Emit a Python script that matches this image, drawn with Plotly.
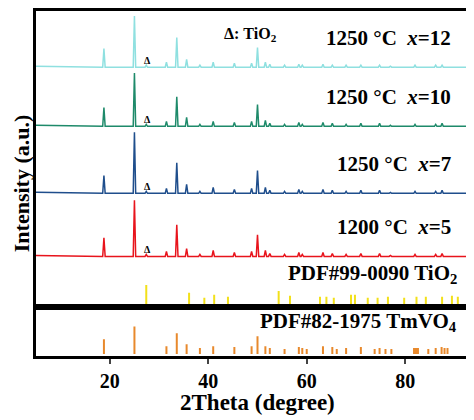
import plotly.graph_objects as go
import plotly.subplots as sp

# -------------- data --------------
peaks = [18.8, 25.0, 27.4, 31.5, 33.6, 35.6, 38.3, 41.0, 45.3, 48.8, 50.0, 51.6, 52.5,
         55.5, 58.4, 59.1, 63.3, 65.2, 68.0, 71.0, 74.8, 77.0, 82.0, 86.2, 87.5]
h_red = [19, 57, 2, 5, 32, 8, 2, 6, 4, 5, 22, 6, 3, 2, 4, 2, 4, 3, 2, 3, 3, 1, 2, 2, 3]
h_blue = [18, 62, 2, 5, 31, 9, 2, 6, 4, 5, 23, 6, 3, 2, 4, 2, 4, 3, 2, 3, 3, 1, 2, 2, 3]
h_green = [19, 54, 2, 5, 30, 9, 2, 5, 4, 5, 22, 6, 3, 2, 4, 2, 4, 3, 2, 3, 3, 1, 2, 2, 3]
h_cyan = [19, 52, 2, 5, 30, 8, 2, 5, 4, 4, 20, 5, 3, 2, 3, 2, 3, 2, 2, 2, 2, 1, 2, 2, 2]
offsets = {'red': 51, 'blue': 115, 'green': 183, 'cyan': 243}
labels = ['1200 °C  <i>x</i>=5', '1250 °C  <i>x</i>=7', '1250 °C  <i>x</i>=10', '1250 °C  <i>x</i>=12']

tio2_pos = [27.4, 36.1, 39.2, 41.2, 44.0, 54.3, 56.6, 62.7, 64.0, 65.5, 69.0, 69.8, 72.4,
            74.4, 76.5, 79.8, 82.3, 84.2, 87.5, 89.5, 90.7]
tio2_h = [20, 12, 7, 10, 8, 14, 9, 8, 8, 7, 10, 10, 7, 7, 8, 7, 8, 8, 8, 9, 8]

tm_pos = [18.8, 25.0, 31.5, 33.6, 35.6, 38.3, 41.0, 45.3, 48.8, 50.0, 51.6, 52.5, 55.5,
          58.4, 59.1, 60.0, 63.3, 65.2, 66.1, 68.0, 71.0, 73.8, 74.8, 76.0, 77.2,
          81.8, 82.2, 82.6, 84.7, 86.2, 87.4, 88.0, 88.6]
tm_h = [15, 28, 8, 21, 10, 6, 8, 7, 8, 18, 8, 6, 5, 7, 6, 5, 8, 7, 5, 6, 7, 5, 6, 5, 5,
        6, 6, 6, 5, 6, 7, 6, 6]

colors = {'red': '#e8141c', 'blue': '#1f4e8c', 'green': '#1e8a6a', 'cyan': '#8fe0e0'}
series = {'red': h_red, 'blue': h_blue, 'green': h_green, 'cyan': h_cyan}


def pattern(pos, hts, base, w=0.25):
    x, y = [5], [base + 1]
    for p, h in zip(pos, hts):
        x += [p - w, p, p + w]
        y += [base, base + h, base]
    x.append(95)
    y.append(base)
    return x, y


def sticks(pos, hts, base):
    x, y = [], []
    for p, h in zip(pos, hts):
        x += [p, p, None]
        y += [base, base + h, None]
    return x, y


fig = sp.make_subplots(rows=2, cols=1, shared_xaxes=True, vertical_spacing=0,
                       row_heights=[0.857, 0.143])

for k, hts in series.items():
    x, y = pattern(peaks, hts, offsets[k])
    fig.add_trace(go.Scatter(x=x, y=y, mode='lines', line=dict(color=colors[k], width=1.5)), row=1, col=1)
    fig.add_annotation(x=27.6, y=offsets[k] + 7, text='<b>Δ</b>', showarrow=False,
                       font=dict(family='Liberation Serif', size=10, color='black'), row=1, col=1)

x, y = sticks(tio2_pos, tio2_h, 2)
fig.add_trace(go.Scatter(x=x, y=y, mode='lines', line=dict(color='#f2e01a', width=2)), row=1, col=1)
x, y = sticks(tm_pos, tm_h, 2)
fig.add_trace(go.Scatter(x=x, y=y, mode='lines', line=dict(color='#e8892c', width=2)), row=2, col=1)

font = dict(family='Liberation Serif', size=21, color='black')
for k, lab in zip(offsets, labels):
    fig.add_annotation(x=89.8, y=offsets[k] + 30, text='<b>' + lab + '</b>', xanchor='right',
                       showarrow=False, font=font, row=1, col=1)
fig.add_annotation(x=48.6, y=276, text='<b>Δ: TiO<sub>2</sub></b>', showarrow=False,
                   font=dict(family='Liberation Serif', size=16, color='black'), row=1, col=1)
fig.add_annotation(x=91, y=33, text='<b>PDF#99-0090 TiO<sub>2</sub></b>', xanchor='right',
                   showarrow=False, font=font, row=1, col=1)
fig.add_annotation(x=91, y=34, text='<b>PDF#82-1975 TmVO<sub>4</sub></b>', xanchor='right',
                   showarrow=False, font=font, row=2, col=1)
fig.add_annotation(x=-0.065, y=0.5, xref='paper', yref='paper', text='<b>Intensity (a.u.)</b>',
                   textangle=-90, showarrow=False,
                   font=dict(family='Liberation Serif', size=22, color='black'))
fig.add_annotation(x=0.5, y=-0.135, xref='paper', yref='paper', text='<b>2Theta (degree)</b>',
                   showarrow=False, yanchor='middle',
                   font=dict(family='Liberation Serif', size=23, color='black'))

axis = dict(showline=True, linecolor='black', linewidth=2.5, mirror=True, showgrid=False,
            zeroline=False)
fig.update_xaxes(range=[5, 95], **axis)
fig.update_xaxes(ticks='outside', tickwidth=2, ticklen=5, tickvals=[20, 40, 60, 80],
                 ticktext=['<b>20</b>', '<b>40</b>', '<b>60</b>', '<b>80</b>'],
                 tickfont=dict(family='Liberation Serif', size=20, color='black'),
                 row=2, col=1)
fig.update_yaxes(showticklabels=False, **axis)
fig.update_yaxes(range=[0, 300], row=1, col=1)
fig.update_yaxes(range=[0, 50], row=2, col=1)

fig.update_layout(width=474, height=420, showlegend=False, plot_bgcolor='white',
                  paper_bgcolor='white', margin=dict(l=28, r=0, t=1, b=72))

fig.write_html("out.html")
